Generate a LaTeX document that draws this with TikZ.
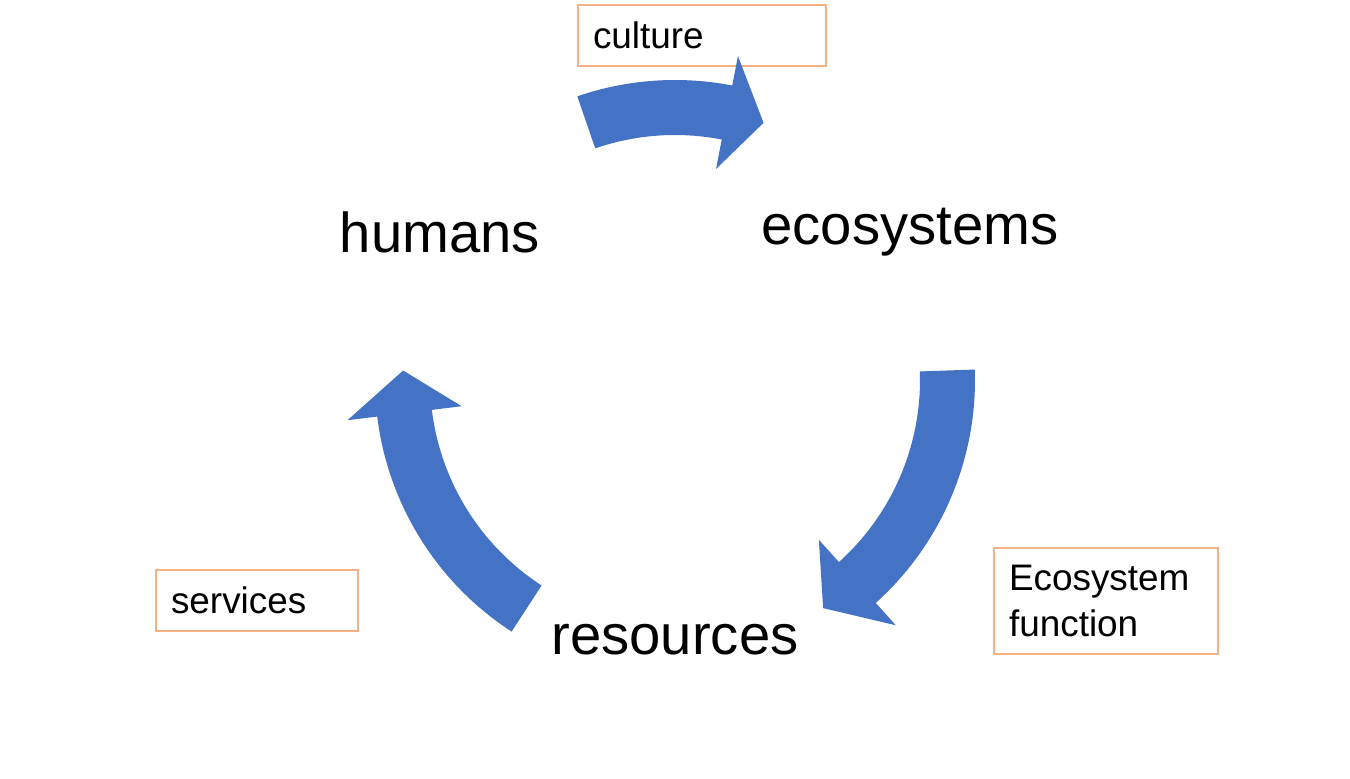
\documentclass[tikz,border=0pt]{standalone}
\usepackage{fontspec}
\setmainfont{Liberation Sans}
\definecolor{arrowblue}{RGB}{68,114,196}
\definecolor{boxorange}{RGB}{244,177,131}
\tikzset{
  label/.style={font=\fontsize{16}{19}\selectfont},
  note/.style={draw=boxorange,fill=white,line width=0.6pt,font=\fontsize{10.5}{13}\selectfont,align=left,inner xsep=0.15cm,minimum height=#1}
}
\begin{document}
\begin{tikzpicture}
			\useasboundingbox (0,0) rectangle (13.5,7.78);
			\def\ro{3.0}
			\def\ri{2.45}
			\def\rmid{2.72}
			\def\rho{3.3}
			\def\rhi{2.15}
			% boxes
			\node[note=0.61cm,text width=2.18cm] (culture) at (7.02,7.425) {culture};
			\node[note=0.61cm,text width=1.72cm] (services) at (2.57,1.775) {services};
			\node[note=1.06cm,text width=1.94cm] (function) at (11.06,1.77) {Ecosystem\\function};
			% curved arrows
			\begin{scope}[shift={(6.75,3.98)}]
				\foreach \s/\b/\t in {109/79/71,2/-48/-57,237/187/178}
					\fill[arrowblue] (\s:\ro) arc[start angle=\s,end angle=\b,radius=\ro] -- (\b:\rho) -- (\t:\rmid) -- (\b:\rhi) -- (\b:\ri) arc[start angle=\b,end angle=\s,radius=\ri] -- cycle;
			\end{scope}
			% labels
			\node[label] (humans) at (4.40,5.46) {humans};
			\node[label] (ecosystems) at (9.10,5.46) {ecosystems};
			\node[label] (resources) at (6.75,1.38) {resources};
\end{tikzpicture}
\end{document}
